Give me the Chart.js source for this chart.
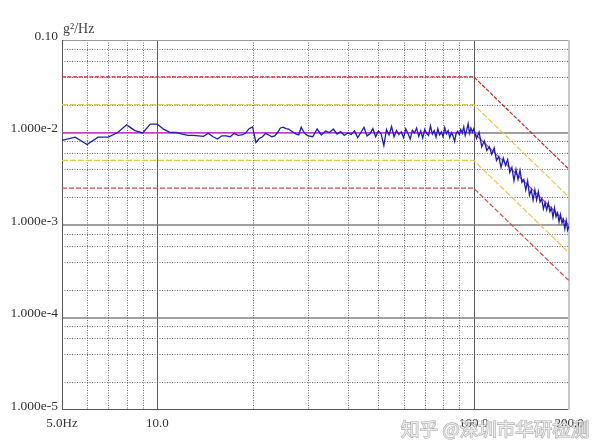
<!DOCTYPE html>
<html>
<head>
<meta charset="utf-8">
<script src="https://cdn.jsdelivr.net/npm/chart.js@4/dist/chart.umd.min.js"></script>
<style>
  body { margin: 0; background: #fff; }
  #wrap { width: 600px; height: 445px; }
</style>
</head>
<body>
<div id="wrap"><canvas id="psdChart" width="600" height="445"></canvas></div>
<script>
// profile breakpoints (Hz) and levels (g^2/Hz)
const profFreq = [5, 100, 200];
const refPsd = [0.01, 0.01, 0.001];
const alarmHiPsd = [0.02, 0.02, 0.002];
const alarmLoPsd = [0.005, 0.005, 0.0005];
const abortHiPsd = [0.04, 0.04, 0.004];
const abortLoPsd = [0.0025, 0.0025, 0.00025];

// measured response
const respFreq = [
  5, 5.5, 6, 6.5, 7, 7.5, 8, 8.5, 9, 9.5, 10, 10.5, 11, 11.5, 12, 12.5, 13, 13.5, 14, 14.5,
  15, 15.5, 16, 16.5, 17, 17.5, 18, 18.5, 19, 19.5, 20, 20.5, 21, 21.5, 22, 22.5, 23, 23.5, 24, 24.5,
  25, 25.5, 26, 26.5, 27, 27.5, 28, 28.5, 29, 29.5, 30,
  31, 32, 33, 34, 35, 36, 37, 38, 39, 40, 41, 42, 43, 44, 45, 46, 47, 48, 49, 50,
  51, 52, 53, 54, 55, 56, 57, 58, 59, 60, 61, 62, 63, 64, 65, 66, 67, 68, 69, 70,
  71, 72, 73, 74, 75, 76, 77, 78, 79, 80, 81, 82, 83, 84, 85, 86, 87, 88, 89, 90,
  91, 92, 93, 94, 95, 96, 97, 98, 99,
  100, 102, 104, 106, 108, 110, 112, 114, 116, 118, 120, 122, 124, 126, 128, 130, 132, 134, 136, 138,
  140, 142, 144, 146, 148, 150, 152, 154, 156, 158, 160, 162, 164, 166, 168, 170, 172, 174, 176, 178,
  180, 182, 184, 186, 188, 190, 192, 194, 196, 198, 200
];
const respPsd = [
  0.0082, 0.0089, 0.0074, 0.0089, 0.0089, 0.0100, 0.0121, 0.0105, 0.0099, 0.0123,
  0.0123, 0.0108, 0.0100, 0.0100, 0.0096, 0.0093, 0.0093, 0.0092, 0.0091, 0.0098,
  0.0090, 0.0085, 0.0092, 0.0092, 0.0090, 0.0098, 0.0093, 0.0094, 0.0098, 0.0110,
  0.0115, 0.0078, 0.0086, 0.0090, 0.0098, 0.0094, 0.0090, 0.0092, 0.0100, 0.0112,
  0.0114, 0.0110, 0.0109, 0.0104, 0.0100, 0.0096, 0.0094, 0.0114, 0.0102, 0.0095, 0.0092,
  0.0090, 0.0109, 0.0094, 0.0104, 0.0100, 0.0109, 0.0096, 0.0102, 0.0093, 0.0099,
  0.0095, 0.0104, 0.0088, 0.0100, 0.0114, 0.0092, 0.0097, 0.0110, 0.0090, 0.0104,
  0.0096, 0.0072, 0.0108, 0.0094, 0.0116, 0.0090, 0.0105, 0.0095, 0.0102, 0.0088,
  0.0110, 0.0097, 0.0085, 0.0106, 0.0099, 0.0112, 0.0091, 0.0104, 0.0087, 0.0108,
  0.0098, 0.0093, 0.0118, 0.0096, 0.0105, 0.0089, 0.0110, 0.0094, 0.0101, 0.0090,
  0.0113, 0.0097, 0.0105, 0.0088, 0.0100, 0.0092, 0.0080, 0.0098, 0.0103, 0.0095,
  0.0108, 0.0099, 0.0115, 0.0093, 0.0106, 0.0124, 0.0098, 0.0112, 0.0101,
  0.0110, 0.0086, 0.0101, 0.0070, 0.0081, 0.0064, 0.0070, 0.0058, 0.0068, 0.0050,
  0.0055, 0.0042, 0.0053, 0.0044, 0.0051, 0.0037, 0.0042, 0.0030, 0.0040, 0.0031,
  0.0039, 0.0029, 0.0031, 0.0024, 0.0030, 0.0021, 0.0024, 0.00186, 0.0024, 0.00186,
  0.0023, 0.00177, 0.00193, 0.00149, 0.00174, 0.00146, 0.00173, 0.00140, 0.00153, 0.00121,
  0.00153, 0.00123, 0.00135, 0.00108, 0.00129, 0.00105, 0.00115, 0.00091, 0.00112, 0.00088, 0.00098
];

// axis ticks / grid
const xTickValues = [5, 10, 100, 200];
const xTickLabels = ['5.0Hz', '10.0', '100.0', '200.0'];
const yTickValues = [1e-5, 1e-4, 1e-3, 1e-2, 0.1];
const yTickLabels = ['1.000e-5', '1.000e-4', '1.000e-3', '1.000e-2', '0.10'];
const xMajorGrid = [10, 100];
const xMinorGrid = [6, 7, 8, 9, 20, 30, 40, 50, 60, 70, 80, 90];
const yMajorGrid = [1e-4, 1e-3, 1e-2];
const yMinorGrid = [2e-5, 4e-5, 6e-5, 8e-5, 2e-4, 4e-4, 6e-4, 8e-4,
  2e-3, 4e-3, 6e-3, 8e-3, 0.02, 0.04, 0.06, 0.08];

const pts = (xs, ys) => xs.map((x, i) => ({ x: x, y: ys[i] }));
const findLabel = (vals, labels, v) => {
  for (let i = 0; i < vals.length; i++) {
    if (Math.abs(Math.log10(vals[i]) - Math.log10(v)) < 1e-6) return labels[i];
  }
  return '';
};

const gridPlugin = {
  id: 'psdGrid',
  beforeDatasetsDraw(chart) {
    const { ctx, chartArea: a, scales: { x, y } } = chart;
    ctx.save();
    ctx.lineWidth = 1;
    // minor dotted
    ctx.strokeStyle = '#6a6a6a';
    ctx.setLineDash([1, 1.5]);
    xMinorGrid.forEach(v => {
      const px = Math.round(x.getPixelForValue(v)) + 0.5;
      ctx.beginPath(); ctx.moveTo(px, a.top); ctx.lineTo(px, a.bottom); ctx.stroke();
    });
    yMinorGrid.forEach(v => {
      const py = Math.round(y.getPixelForValue(v)) + 0.5;
      ctx.beginPath(); ctx.moveTo(a.left, py); ctx.lineTo(a.right, py); ctx.stroke();
    });
    // major solid
    ctx.setLineDash([]);
    ctx.strokeStyle = '#5a5a5a';
    xMajorGrid.forEach(v => {
      const px = Math.round(x.getPixelForValue(v)) + 0.5;
      ctx.beginPath(); ctx.moveTo(px, a.top); ctx.lineTo(px, a.bottom); ctx.stroke();
    });
    ctx.strokeStyle = '#808080';
    ctx.lineWidth = 1.6;
    yMajorGrid.forEach(v => {
      const py = Math.round(y.getPixelForValue(v));
      ctx.beginPath(); ctx.moveTo(a.left, py); ctx.lineTo(a.right, py); ctx.stroke();
    });
    // frame
    ctx.lineWidth = 1;
    ctx.strokeStyle = '#999';
    ctx.beginPath(); ctx.moveTo(a.left, a.top + 0.5); ctx.lineTo(a.right, a.top + 0.5); ctx.stroke();
    ctx.strokeStyle = '#555';
    ctx.beginPath(); ctx.moveTo(a.left + 0.5, a.top); ctx.lineTo(a.left + 0.5, a.bottom); ctx.stroke();
    ctx.beginPath(); ctx.moveTo(a.left, a.bottom - 0.5); ctx.lineTo(a.right, a.bottom - 0.5); ctx.stroke();
    ctx.strokeStyle = '#c8c8c8';
    ctx.lineWidth = 2;
    ctx.beginPath(); ctx.moveTo(a.right, a.top); ctx.lineTo(a.right, a.bottom); ctx.stroke();
    ctx.restore();
  },
  afterDraw(chart) {
    const { ctx, chartArea: a } = chart;
    ctx.save();
    ctx.fillStyle = '#444';
    ctx.font = '14px "Liberation Serif", serif';
    ctx.textBaseline = 'alphabetic';
    ctx.fillText('g\u00b2/Hz', a.left + 1, 33);
    // watermark
    ctx.font = '18.5px "Noto Sans CJK SC", sans-serif';
    ctx.lineWidth = 1.2;
    ctx.strokeStyle = 'rgba(100,100,100,0.55)';
    ctx.fillStyle = 'rgba(245,245,245,0.85)';
    ctx.strokeText('知乎 @深圳市华研检测', 401, 436);
    ctx.fillText('知乎 @深圳市华研检测', 401, 436);
    ctx.restore();
  }
};

const lineDs = (label, ys, color, dash, order) => ({
  label: label,
  data: pts(profFreq, ys),
  borderColor: color,
  borderWidth: 1.2,
  borderDash: dash,
  pointRadius: 0,
  showLine: true,
  order: order
});

new Chart(document.getElementById('psdChart'), {
  type: 'scatter',
  data: {
    datasets: [
      {
        label: 'Response',
        data: pts(respFreq, respPsd),
        borderColor: '#1c1cc0',
        borderWidth: 1.3,
        pointRadius: 0,
        showLine: true,
        order: 0
      },
      lineDs('Reference', refPsd, '#c040c8', [], 1),
      lineDs('Alarm high', alarmHiPsd, '#e6c850', [6, 2], 2),
      lineDs('Alarm low', alarmLoPsd, '#e6c850', [6, 2], 2),
      lineDs('Abort high', abortHiPsd, '#c62828', [4, 1.5], 2),
      lineDs('Abort low', abortLoPsd, '#d84848', [5, 2], 2)
    ]
  },
  options: {
    responsive: false,
    animation: false,
    layout: { padding: { left: 0, top: 40, right: 31, bottom: 0 } },
    plugins: { legend: { display: false }, tooltip: { enabled: false } },
    scales: {
      x: {
        type: 'logarithmic',
        min: 5,
        max: 200,
        grid: { display: false, drawTicks: false },
        border: { display: false },
        afterBuildTicks: s => { s.ticks = xTickValues.map(v => ({ value: v })); },
        afterFit: s => { s.height = 35; },
        ticks: {
          autoSkip: false,
          maxRotation: 0,
          padding: 6,
          color: '#333',
          font: { family: '"Liberation Serif", serif', size: 13 },
          callback: v => findLabel(xTickValues, xTickLabels, v)
        }
      },
      y: {
        type: 'logarithmic',
        min: 1e-5,
        max: 0.1,
        grid: { display: false, drawTicks: false },
        border: { display: false },
        afterBuildTicks: s => { s.ticks = yTickValues.map(v => ({ value: v })); },
        afterFit: s => { s.width = 62; },
        ticks: {
          autoSkip: false,
          padding: 4,
          labelOffset: -4,
          color: '#333',
          font: { family: '"Liberation Serif", serif', size: 13.5 },
          callback: v => findLabel(yTickValues, yTickLabels, v)
        }
      }
    }
  },
  plugins: [gridPlugin]
});
</script>
</body>
</html>
